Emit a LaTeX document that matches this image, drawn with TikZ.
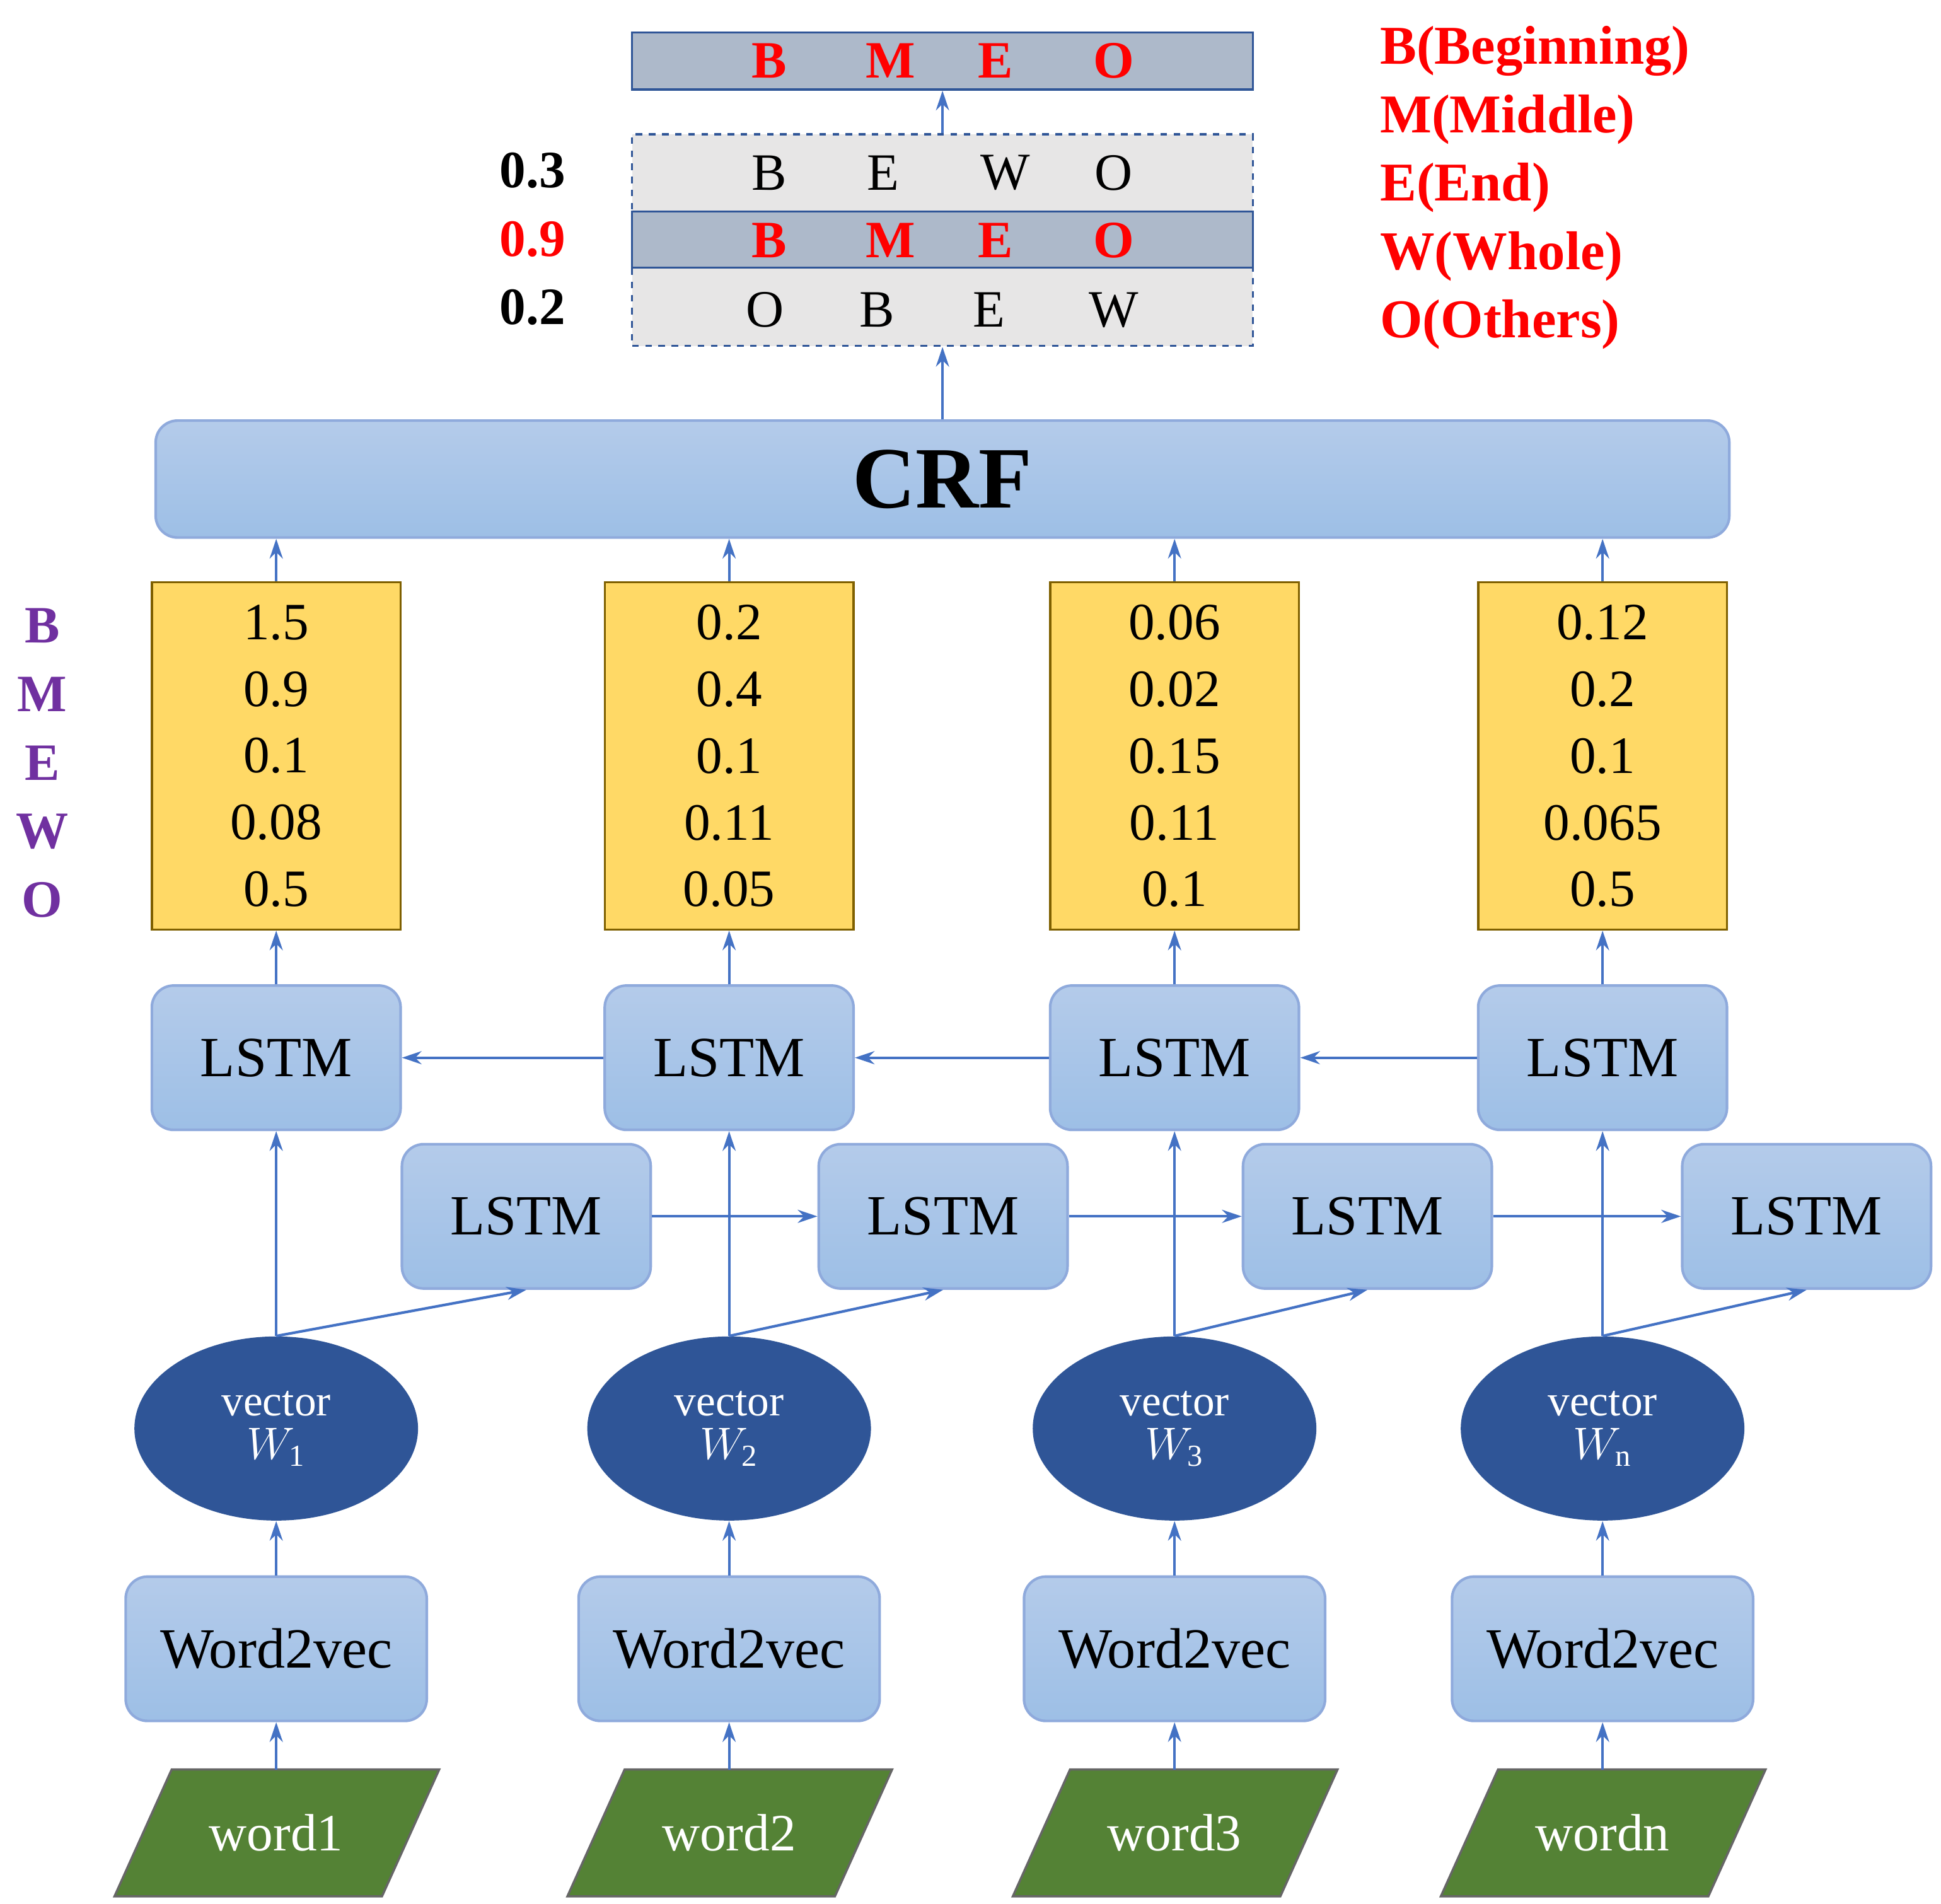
\documentclass[tikz,border=0pt]{standalone}
\usepackage{fontspec}
\setmainfont{Liberation Serif}
\usetikzlibrary{arrows.meta,shapes.geometric}
\definecolor{arr}{HTML}{4472C4}
\definecolor{bord}{HTML}{8FAADC}
\definecolor{topc}{HTML}{B4CBEA}
\definecolor{botc}{HTML}{9DBFE6}
\definecolor{gb}{HTML}{ADB9CA}
\definecolor{lg}{HTML}{E7E6E6}
\definecolor{dk}{HTML}{2F5597}
\definecolor{yel}{HTML}{FFD966}
\definecolor{yb}{HTML}{7F6000}
\definecolor{grn}{HTML}{548235}
\definecolor{pur}{HTML}{7030A0}
\begin{document}
\begin{tikzpicture}[x=0.02cm,y=-0.02cm,
 ar/.style={draw=arr,line width=1.2pt,-{Stealth[length=9pt,width=6pt]}},
 blue box/.style={draw=bord,line width=1.2pt,rounded corners=10pt,top color=topc,bottom color=botc,minimum width=4cm,minimum height=2.32cm,font=\fontsize{26}{30}\selectfont},
 yb/.style={draw=yb,line width=1pt,fill=yel,minimum width=4cm,minimum height=5.58cm,align=center,font=\fontsize{24}{22}\selectfont},
 vec/.style={ellipse,fill=dk,minimum width=4.56cm,minimum height=2.96cm,text=white,align=center,font=\fontsize{20}{22}\selectfont},
 w2v/.style={blue box,minimum width=4.84cm},
 wdshape/.style={fill=grn,draw=black!60,line width=1pt},
 wd/.style={text=white,font=\fontsize{24}{28}\selectfont},
 lab/.style={font=\bfseries\fontsize{24}{28}\selectfont},
 leg/.style={font=\bfseries\fontsize{25}{28}\selectfont,text=red,anchor=west},
 row/.style={font=\fontsize{24}{28}\selectfont}]
\useasboundingbox (0,0) rectangle (1560,1530);
% top bar
\node[draw=dk,line width=1pt,fill=gb,minimum width=9.98cm,minimum height=0.92cm] (res) at (757.5,49) {};
\foreach \x/\t in {618/B,716/M,800/E,895/O}{\node[lab,text=red] at (\x,49) {\t};}
% candidates
\node[draw=dk,dashed,line width=1pt,fill=lg,minimum width=9.98cm,minimum height=3.4cm] (cand) at (757.5,193) {};
\node[draw=dk,line width=1pt,fill=gb,minimum width=9.98cm,minimum height=0.9cm] (best) at (757.5,192.5) {};
\foreach \x/\t in {618/B,710/E,808/W,895/O}{\node[row] at (\x,139) {\t};}
\foreach \x/\t in {618/B,716/M,800/E,895/O}{\node[lab,text=red] at (\x,193) {\t};}
\foreach \x/\t in {615/O,705/B,795/E,895/W}{\node[row] at (\x,249) {\t};}
\node[lab] at (428,137) {0.3};
\node[lab,text=red] at (428,192) {0.9};
\node[lab] at (428,247) {0.2};
\draw[ar] (cand.north) -- (res.south);
% legend
\node[leg] at (1103,41) {B(Beginning)};
\node[leg] at (1103,96) {M(Middle)};
\node[leg] at (1103,151) {E(End)};
\node[leg] at (1103,206) {W(Whole)};
\node[leg] at (1103,261) {O(Others)};
% CRF
\node[blue box,minimum width=25.3cm,minimum height=1.88cm,font=\bfseries\fontsize{40}{44}\selectfont] (crf) at (757.5,385) {CRF};
\draw[ar] (crf.north) -- (cand.south);
% left labels
\foreach \y/\t in {503/B,558/M,613/E,668/W,723/O}{\node[lab,text=pur] at (34,\y) {\t};}
% columns
\foreach \i/\x/\lx/\a/\b/\c/\d/\e/\s in {1/222/423/1.5/0.9/0.1/0.08/0.5/1,2/586/758/0.2/0.4/0.1/0.11/0.05/2,3/944/1099/0.06/0.02/0.15/0.11/0.1/3,4/1288/1452/0.12/0.2/0.1/0.065/0.5/n}{
 \node[yb] (y\i) at (\x,607.5) {\a\\[0.3cm]\b\\[0.3cm]\c\\[0.3cm]\d\\[0.3cm]\e};
 \node[blue box] (u\i) at (\x,850) {LSTM};
 \node[blue box] (l\i) at (\lx,977.5) {LSTM};
 \node[vec] (v\i) at (\x,1148) {vector\\[-2pt]$W_{\mathrm{\s}}$};
 \node[w2v] (w\i) at (\x,1325) {Word2vec};
 \draw[wdshape] (\x-130,1524) -- (\x-84,1422) -- (\x+131,1422) -- (\x+85,1524) -- cycle;
 \coordinate (tt\i) at (\x,1422);
 \node[wd] (t\i) at (\x,1473) {\ifnum\i=4 wordn\else word\i\fi};
 \draw[ar] (tt\i) -- (w\i.south);
 \draw[ar] (w\i.north) -- (v\i.south);
 \draw[ar] (v\i.north) -- (u\i.south);
 \draw[ar] (v\i.north) -- (l\i.south);
 \draw[ar] (u\i.north) -- (y\i.south);
 \draw[ar] (y\i.north) -- (crf.south -| y\i.north);
}
\draw[ar] (u2.west) -- (u1.east);
\draw[ar] (u3.west) -- (u2.east);
\draw[ar] (u4.west) -- (u3.east);
\draw[ar] (l1.east) -- (l2.west);
\draw[ar] (l2.east) -- (l3.west);
\draw[ar] (l3.east) -- (l4.west);
\end{tikzpicture}
\end{document}
